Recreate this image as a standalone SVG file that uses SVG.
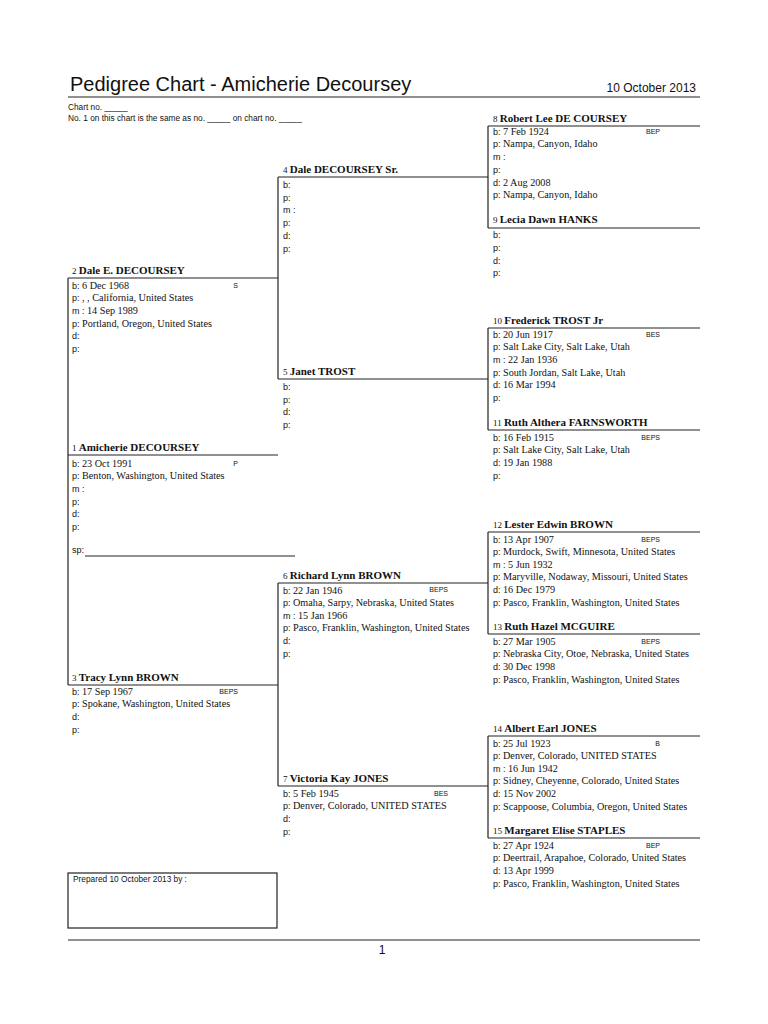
<svg xmlns="http://www.w3.org/2000/svg" width="768" height="1024" viewBox="0 0 768 1024">
<style>
text{fill:#111}
.t{font-family:"Liberation Sans",Arial,sans-serif;font-size:20px}
.dt{font-family:"Liberation Sans",Arial,sans-serif;font-size:12px}
.s{font-family:"Liberation Sans",Arial,sans-serif;font-size:8.3px}
.r{font-family:"Liberation Sans",Arial,sans-serif;font-size:9px}
.v{font-family:"Liberation Serif","Times New Roman",serif;font-size:10.2px}
.n{font-family:"Liberation Serif","Times New Roman",serif;font-size:9px}
.nm{font-family:"Liberation Serif","Times New Roman",serif;font-size:11px;font-weight:bold}
.f{font-family:"Liberation Sans",Arial,sans-serif;font-size:7px;text-anchor:end}
.ln{stroke:#222;stroke-width:1.2;fill:none}
</style>
<rect width="768" height="1024" fill="#fff"/>
<text class="t" x="70" y="91">Pedigree Chart - Amicherie Decoursey</text>
<text class="dt" x="696" y="92" text-anchor="end">10 October 2013</text>
<line class="ln" x1="68" y1="97" x2="700" y2="97"/>
<text class="s" x="68" y="110">Chart no. _____</text>
<text class="s" x="68" y="121">No. 1 on this chart is the same as no. _____ on chart no. _____</text>

<g id="connectors">
<path class="ln" d="M68 278 V685"/>
<path class="ln" d="M278 177 V379"/>
<path class="ln" d="M278 583 V786"/>
<path class="ln" d="M488 126 V228 M488 328 V430 M488 532 V634 M488 736 V838"/>
<line class="ln" x1="85" y1="556" x2="295" y2="556"/>
</g>

<g id="n1">
<line class="ln" x1="68" y1="455" x2="278" y2="455"/>
<text x="72" y="451"><tspan class="n">1 </tspan><tspan class="nm">Amicherie DECOURSEY</tspan></text>
<text class="f" x="238" y="466">P</text>
<text x="72" y="467"><tspan class="r">b: </tspan><tspan class="v">23 Oct 1991</tspan></text>
<text x="72" y="479"><tspan class="r">p: </tspan><tspan class="v">Benton, Washington, United States</tspan></text>
<text x="72" y="492" class="r">m :</text>
<text x="72" y="505" class="r">p:</text>
<text x="72" y="517" class="r">d:</text>
<text x="72" y="530" class="r">p:</text>
<text x="72" y="553" class="r">sp:</text>
</g>
<g id="n2">
<line class="ln" x1="68" y1="278" x2="278" y2="278"/>
<text x="72" y="274"><tspan class="n">2 </tspan><tspan class="nm">Dale E. DECOURSEY</tspan></text>
<text class="f" x="238" y="288">S</text>
<text x="72" y="289"><tspan class="r">b: </tspan><tspan class="v">6 Dec 1968</tspan></text>
<text x="72" y="301"><tspan class="r">p: </tspan><tspan class="v">, , California, United States</tspan></text>
<text x="72" y="314"><tspan class="r">m : </tspan><tspan class="v">14 Sep 1989</tspan></text>
<text x="72" y="327"><tspan class="r">p: </tspan><tspan class="v">Portland, Oregon, United States</tspan></text>
<text x="72" y="339" class="r">d:</text>
<text x="72" y="352" class="r">p:</text>
</g>
<g id="n3">
<line class="ln" x1="68" y1="685" x2="278" y2="685"/>
<text x="72" y="681"><tspan class="n">3 </tspan><tspan class="nm">Tracy Lynn BROWN</tspan></text>
<text class="f" x="238" y="694">BEPS</text>
<text x="72" y="695"><tspan class="r">b: </tspan><tspan class="v">17 Sep 1967</tspan></text>
<text x="72" y="707"><tspan class="r">p: </tspan><tspan class="v">Spokane, Washington, United States</tspan></text>
<text x="72" y="720" class="r">d:</text>
<text x="72" y="733" class="r">p:</text>
</g>
<g id="n4">
<line class="ln" x1="278" y1="177" x2="488" y2="177"/>
<text x="283" y="173"><tspan class="n">4 </tspan><tspan class="nm">Dale DECOURSEY Sr.</tspan></text>
<text x="283" y="188" class="r">b:</text>
<text x="283" y="201" class="r">p:</text>
<text x="283" y="213" class="r">m :</text>
<text x="283" y="226" class="r">p:</text>
<text x="283" y="239" class="r">d:</text>
<text x="283" y="252" class="r">p:</text>
</g>
<g id="n5">
<line class="ln" x1="278" y1="379" x2="488" y2="379"/>
<text x="283" y="375"><tspan class="n">5 </tspan><tspan class="nm">Janet TROST</tspan></text>
<text x="283" y="390" class="r">b:</text>
<text x="283" y="403" class="r">p:</text>
<text x="283" y="415" class="r">d:</text>
<text x="283" y="428" class="r">p:</text>
</g>
<g id="n6">
<line class="ln" x1="278" y1="583" x2="488" y2="583"/>
<text x="283" y="579"><tspan class="n">6 </tspan><tspan class="nm">Richard Lynn BROWN</tspan></text>
<text class="f" x="448" y="592">BEPS</text>
<text x="283" y="594"><tspan class="r">b: </tspan><tspan class="v">22 Jan 1946</tspan></text>
<text x="283" y="606"><tspan class="r">p: </tspan><tspan class="v">Omaha, Sarpy, Nebraska, United States</tspan></text>
<text x="283" y="619"><tspan class="r">m : </tspan><tspan class="v">15 Jan 1966</tspan></text>
<text x="283" y="631"><tspan class="r">p: </tspan><tspan class="v">Pasco, Franklin, Washington, United States</tspan></text>
<text x="283" y="644" class="r">d:</text>
<text x="283" y="657" class="r">p:</text>
</g>
<g id="n7">
<line class="ln" x1="278" y1="786" x2="488" y2="786"/>
<text x="283" y="782"><tspan class="n">7 </tspan><tspan class="nm">Victoria Kay JONES</tspan></text>
<text class="f" x="448" y="796">BES</text>
<text x="283" y="797"><tspan class="r">b: </tspan><tspan class="v">5 Feb 1945</tspan></text>
<text x="283" y="809"><tspan class="r">p: </tspan><tspan class="v">Denver, Colorado, UNITED STATES</tspan></text>
<text x="283" y="822" class="r">d:</text>
<text x="283" y="835" class="r">p:</text>
</g>
<g id="n8">
<line class="ln" x1="488" y1="126" x2="700" y2="126"/>
<text x="493" y="122"><tspan class="n">8 </tspan><tspan class="nm">Robert Lee DE COURSEY</tspan></text>
<text class="f" x="660" y="134">BEP</text>
<text x="493" y="135"><tspan class="r">b: </tspan><tspan class="v">7 Feb 1924</tspan></text>
<text x="493" y="147"><tspan class="r">p: </tspan><tspan class="v">Nampa, Canyon, Idaho</tspan></text>
<text x="493" y="160" class="r">m :</text>
<text x="493" y="173" class="r">p:</text>
<text x="493" y="186"><tspan class="r">d: </tspan><tspan class="v">2 Aug 2008</tspan></text>
<text x="493" y="198"><tspan class="r">p: </tspan><tspan class="v">Nampa, Canyon, Idaho</tspan></text>
</g>
<g id="n9">
<line class="ln" x1="488" y1="228" x2="700" y2="228"/>
<text x="493" y="223"><tspan class="n">9 </tspan><tspan class="nm">Lecia Dawn HANKS</tspan></text>
<text x="493" y="238" class="r">b:</text>
<text x="493" y="251" class="r">p:</text>
<text x="493" y="264" class="r">d:</text>
<text x="493" y="276" class="r">p:</text>
</g>
<g id="n10">
<line class="ln" x1="488" y1="328" x2="700" y2="328"/>
<text x="493" y="324"><tspan class="n">10 </tspan><tspan class="nm">Frederick TROST Jr</tspan></text>
<text class="f" x="660" y="337">BES</text>
<text x="493" y="338"><tspan class="r">b: </tspan><tspan class="v">20 Jun 1917</tspan></text>
<text x="493" y="350"><tspan class="r">p: </tspan><tspan class="v">Salt Lake City, Salt Lake, Utah</tspan></text>
<text x="493" y="363"><tspan class="r">m : </tspan><tspan class="v">22 Jan 1936</tspan></text>
<text x="493" y="376"><tspan class="r">p: </tspan><tspan class="v">South Jordan, Salt Lake, Utah</tspan></text>
<text x="493" y="388"><tspan class="r">d: </tspan><tspan class="v">16 Mar 1994</tspan></text>
<text x="493" y="401" class="r">p:</text>
</g>
<g id="n11">
<line class="ln" x1="488" y1="430" x2="700" y2="430"/>
<text x="493" y="426"><tspan class="n">11 </tspan><tspan class="nm">Ruth Althera FARNSWORTH</tspan></text>
<text class="f" x="660" y="440">BEPS</text>
<text x="493" y="441"><tspan class="r">b: </tspan><tspan class="v">16 Feb 1915</tspan></text>
<text x="493" y="453"><tspan class="r">p: </tspan><tspan class="v">Salt Lake City, Salt Lake, Utah</tspan></text>
<text x="493" y="466"><tspan class="r">d: </tspan><tspan class="v">19 Jan 1988</tspan></text>
<text x="493" y="479" class="r">p:</text>
</g>
<g id="n12">
<line class="ln" x1="488" y1="532" x2="700" y2="532"/>
<text x="493" y="528"><tspan class="n">12 </tspan><tspan class="nm">Lester Edwin BROWN</tspan></text>
<text class="f" x="660" y="542">BEPS</text>
<text x="493" y="543"><tspan class="r">b: </tspan><tspan class="v">13 Apr 1907</tspan></text>
<text x="493" y="555"><tspan class="r">p: </tspan><tspan class="v">Murdock, Swift, Minnesota, United States</tspan></text>
<text x="493" y="568"><tspan class="r">m : </tspan><tspan class="v">5 Jun 1932</tspan></text>
<text x="493" y="580"><tspan class="r">p: </tspan><tspan class="v">Maryville, Nodaway, Missouri, United States</tspan></text>
<text x="493" y="593"><tspan class="r">d: </tspan><tspan class="v">16 Dec 1979</tspan></text>
<text x="493" y="606"><tspan class="r">p: </tspan><tspan class="v">Pasco, Franklin, Washington, United States</tspan></text>
</g>
<g id="n13">
<line class="ln" x1="488" y1="634" x2="700" y2="634"/>
<text x="493" y="630"><tspan class="n">13 </tspan><tspan class="nm">Ruth Hazel MCGUIRE</tspan></text>
<text class="f" x="660" y="644">BEPS</text>
<text x="493" y="645"><tspan class="r">b: </tspan><tspan class="v">27 Mar 1905</tspan></text>
<text x="493" y="657"><tspan class="r">p: </tspan><tspan class="v">Nebraska City, Otoe, Nebraska, United States</tspan></text>
<text x="493" y="670"><tspan class="r">d: </tspan><tspan class="v">30 Dec 1998</tspan></text>
<text x="493" y="683"><tspan class="r">p: </tspan><tspan class="v">Pasco, Franklin, Washington, United States</tspan></text>
</g>
<g id="n14">
<line class="ln" x1="488" y1="736" x2="700" y2="736"/>
<text x="493" y="732"><tspan class="n">14 </tspan><tspan class="nm">Albert Earl JONES</tspan></text>
<text class="f" x="660" y="746">B</text>
<text x="493" y="747"><tspan class="r">b: </tspan><tspan class="v">25 Jul 1923</tspan></text>
<text x="493" y="759"><tspan class="r">p: </tspan><tspan class="v">Denver, Colorado, UNITED STATES</tspan></text>
<text x="493" y="772"><tspan class="r">m : </tspan><tspan class="v">16 Jun 1942</tspan></text>
<text x="493" y="784"><tspan class="r">p: </tspan><tspan class="v">Sidney, Cheyenne, Colorado, United States</tspan></text>
<text x="493" y="797"><tspan class="r">d: </tspan><tspan class="v">15 Nov 2002</tspan></text>
<text x="493" y="810"><tspan class="r">p: </tspan><tspan class="v">Scappoose, Columbia, Oregon, United States</tspan></text>
</g>
<g id="n15">
<line class="ln" x1="488" y1="838" x2="700" y2="838"/>
<text x="493" y="834"><tspan class="n">15 </tspan><tspan class="nm">Margaret Elise STAPLES</tspan></text>
<text class="f" x="660" y="848">BEP</text>
<text x="493" y="849"><tspan class="r">b: </tspan><tspan class="v">27 Apr 1924</tspan></text>
<text x="493" y="861"><tspan class="r">p: </tspan><tspan class="v">Deertrail, Arapahoe, Colorado, United States</tspan></text>
<text x="493" y="874"><tspan class="r">d: </tspan><tspan class="v">13 Apr 1999</tspan></text>
<text x="493" y="887"><tspan class="r">p: </tspan><tspan class="v">Pasco, Franklin, Washington, United States</tspan></text>
</g>
<g id="prepared">
<rect class="ln" x="68" y="873" width="209" height="55"/>
<text class="s" x="73" y="882">Prepared 10 October 2013 by :</text>
</g>
<line class="ln" x1="68" y1="940" x2="700" y2="940"/>
<text class="dt" x="382" y="954" text-anchor="middle">1</text>
</svg>
